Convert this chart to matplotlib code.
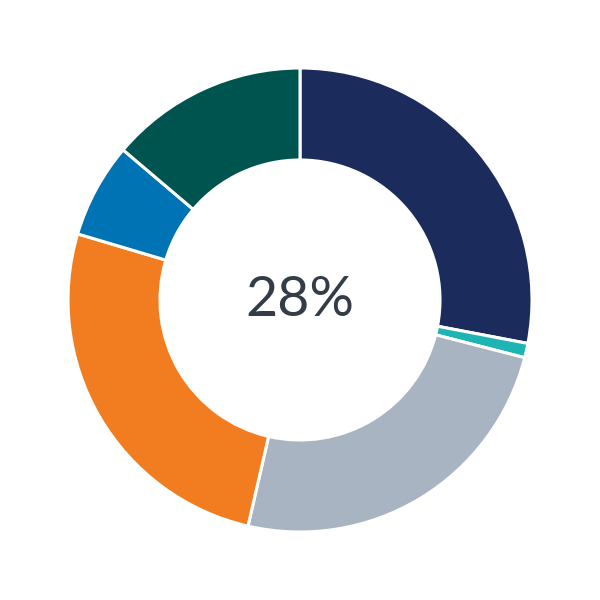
import matplotlib.pyplot as plt

# slice shares, clockwise from 12 o'clock
labels = ['Navy', 'Teal', 'Gray', 'Orange', 'Blue', 'Green']
values = [28, 1, 24.6, 26, 6.6, 13.8]
colors = ['#1b2b5b', '#1fb4b4', '#a9b4c2', '#f27d21', '#0073b5', '#00544f']
center_text = '28%'

fig = plt.figure(figsize=(6, 6), dpi=100)
ax = fig.add_axes([0, 0, 1, 1])

R = 232 / 300
ax.pie(values, colors=colors, startangle=90, counterclock=False, radius=R,
       wedgeprops=dict(width=R * (92 / 232), edgecolor='white', linewidth=2.2))
ax.text(0, 0, center_text, ha='center', va='center', fontsize=40,
        color='#333c47', family='Lato')

ax.set_xlim(-1, 1)
ax.set_ylim(-1, 1)
ax.set_aspect('equal')
ax.axis('off')

fig.savefig('out.png', dpi=100, facecolor='white')
